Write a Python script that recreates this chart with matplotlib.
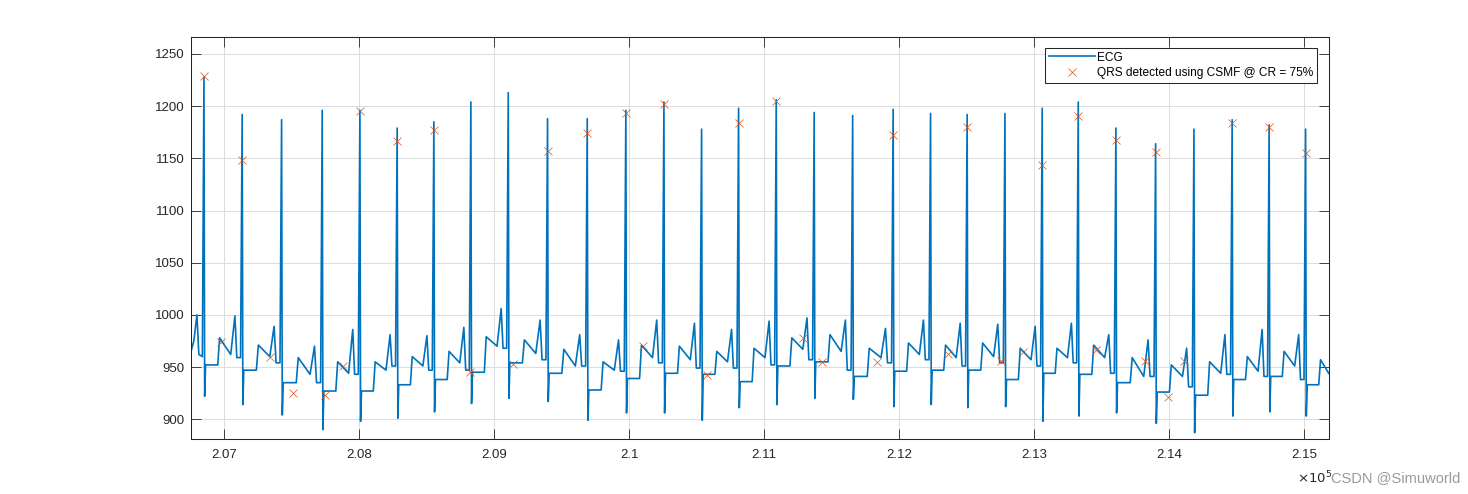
import matplotlib
matplotlib.use("Agg")
import matplotlib.pyplot as plt

plt.rcParams["font.family"] = ["Liberation Sans", "DejaVu Sans"]

# R-peak sample index and amplitude for each beat
r_idx = [206850, 207133, 207425, 207726, 208005, 208281, 208553, 208827, 209104, 209395,
         209689, 209975, 210257, 210536, 210810, 211089, 211370, 211655, 211955, 212232,
         212503, 212783, 213059, 213326, 213605, 213899, 214183, 214466, 214740, 215010]
r_amp = [1228, 1192, 1187, 1196, 1196, 1179, 1185, 1204, 1213, 1188,
         1188, 1196, 1204, 1178, 1198, 1206, 1194, 1191, 1197, 1193,
         1192, 1193, 1198, 1204, 1179, 1164, 1178, 1187, 1182, 1178]
s_amp = [922, 914, 904, 890, 898, 901, 907, 915, 920, 917,
         899, 906, 906, 899, 911, 914, 920, 919, 912, 914,
         911, 912, 898, 903, 906, 896, 887, 903, 907, 903]

# levels of the trace after each beat: ST, T bump, dip, sharp peak, level before next R
st_lvl = [952, 947, 935, 927, 927, 933, 938, 945, 954, 944,
          928, 939, 944, 943, 936, 951, 955, 941, 946, 947,
          947, 938, 944, 943, 935, 926, 923, 938, 941, 933]
t_lvl = [978, 971, 959, 955, 955, 960, 965, 979, 976, 967,
         955, 971, 970, 965, 968, 978, 981, 968, 973, 971,
         973, 968, 968, 971, 959, 952, 955, 960, 965, 957]
dip_lvl = [962, 960, 943, 944, 947, 951, 954, 970, 963, 951,
           947, 959, 957, 955, 959, 967, 965, 959, 962, 959,
           960, 957, 959, 959, 941, 941, 944, 946, 951]
pk_lvl = [999, 989, 970, 986, 981, 980, 988, 1006, 995, 981,
          976, 995, 992, 986, 994, 997, 995, 987, 995, 992,
          991, 989, 992, 981, 976, 968, 981, 986, 981]
pre_lvl = [959, 954, 935, 943, 951, 947, 947, 968, 957, 951,
           946, 954, 949, 949, 952, 957, 947, 954, 957, 951,
           954, 951, 954, 944, 941, 931, 943, 941, 938]

# trace before the first beat and at the right edge
lead_x = [206756, 206775, 206798, 206812, 206838]
lead_y = [966, 975, 1000, 962, 960]
end_x, end_y = 215181, 944

# QRS detections (compressed-sensing matched filter)
qrs_x = [206850, 206976, 207133, 207338, 207511, 207746, 207877, 208005, 208281, 208553,
         208820, 209141, 209395, 209689, 209975, 210104, 210257, 210573, 210810, 211089,
         211289, 211425, 211832, 211952, 212363, 212503, 212757, 212915, 213059, 213326,
         213461, 213605, 213820, 213899, 213992, 214111, 214466, 214740, 215010]
qrs_y = [1229, 973.6, 1148, 960, 925, 923, 951, 1195, 1166.6, 1177,
         945, 953, 1157, 1174, 1193, 970.5, 1202, 942, 1183.6, 1205,
         978, 955, 955, 1172, 962.5, 1180.4, 956, 964, 1143.6, 1190.7,
         966, 1168, 956, 1156, 921, 956, 1184, 1180, 1155]

xticks = [207000, 208000, 209000, 210000, 211000, 212000, 213000, 214000, 215000]
yticks = [900, 950, 1000, 1050, 1100, 1150, 1200, 1250]


def build_trace():
    xs, ys = list(lead_x), list(lead_y)
    n = len(r_idx)
    for i in range(n):
        r = r_idx[i]
        rr = r_idx[i + 1] - r if i < n - 1 else r - r_idx[i - 1]
        prev = lead_y[-1] if i == 0 else pre_lvl[i - 1]
        xs += [r - 12, r, r + 5, r + 12, r + 0.36 * rr, r + 0.41 * rr]
        ys += [prev, r_amp[i], s_amp[i], st_lvl[i], st_lvl[i], t_lvl[i]]
        if i < n - 1:
            xs += [r + 0.70 * rr, r + 0.81 * rr, r + 0.86 * rr]
            ys += [dip_lvl[i], pk_lvl[i], pre_lvl[i]]
        else:
            xs.append(end_x)
            ys.append(end_y)
    return xs, ys


ecg_x, ecg_y = build_trace()

fig = plt.figure(figsize=(14.68, 4.94), dpi=100)
ax = fig.add_axes([0.1303, 0.1113, 0.7748, 0.8132])

ax.plot(ecg_x, ecg_y, color="#0072BD", lw=1.2, label="ECG")
ax.plot(qrs_x, qrs_y, ls="none", marker="x", ms=6, mew=0.5, color="#D95319",
        label="QRS detected using CSMF @ CR = 75%")

ax.set_xlim(206756, 215181)
ax.set_ylim(881, 1266)
ax.set_xticks(xticks)
ax.set_xticklabels([f"{v / 1e5:g}" for v in xticks])
ax.set_yticks(yticks)

dark = "#262626"
ax.grid(True, color="#DCDCDC", lw=0.7)
ax.set_axisbelow(True)
ax.tick_params(direction="in", length=7.5, width=0.6, colors=dark, labelsize=9.5,
               top=True, right=True)
ax.tick_params(axis="y", pad=5)
ax.tick_params(axis="x", pad=7)
for sp in ax.spines.values():
    sp.set_color(dark)
    sp.set_linewidth(0.75)

leg = ax.legend(loc="upper right", bbox_to_anchor=(0.9897, 0.9734), borderaxespad=0,
                fontsize=8.6, fancybox=False, framealpha=1, edgecolor=dark,
                handlelength=3.9, handletextpad=0.15, labelspacing=0.3, borderpad=0.3)
leg.get_frame().set_linewidth(0.75)

ax.text(0.972, -0.097, r"$\times10^{5}$", transform=ax.transAxes, ha="left", va="center",
        fontsize=9.5, color=dark)
fig.text(0.907, 0.032, "CSDN @Simuworld", ha="left", va="center", fontsize=10.5,
         color="#9A9A9A")

fig.savefig("out.png", dpi=100)
